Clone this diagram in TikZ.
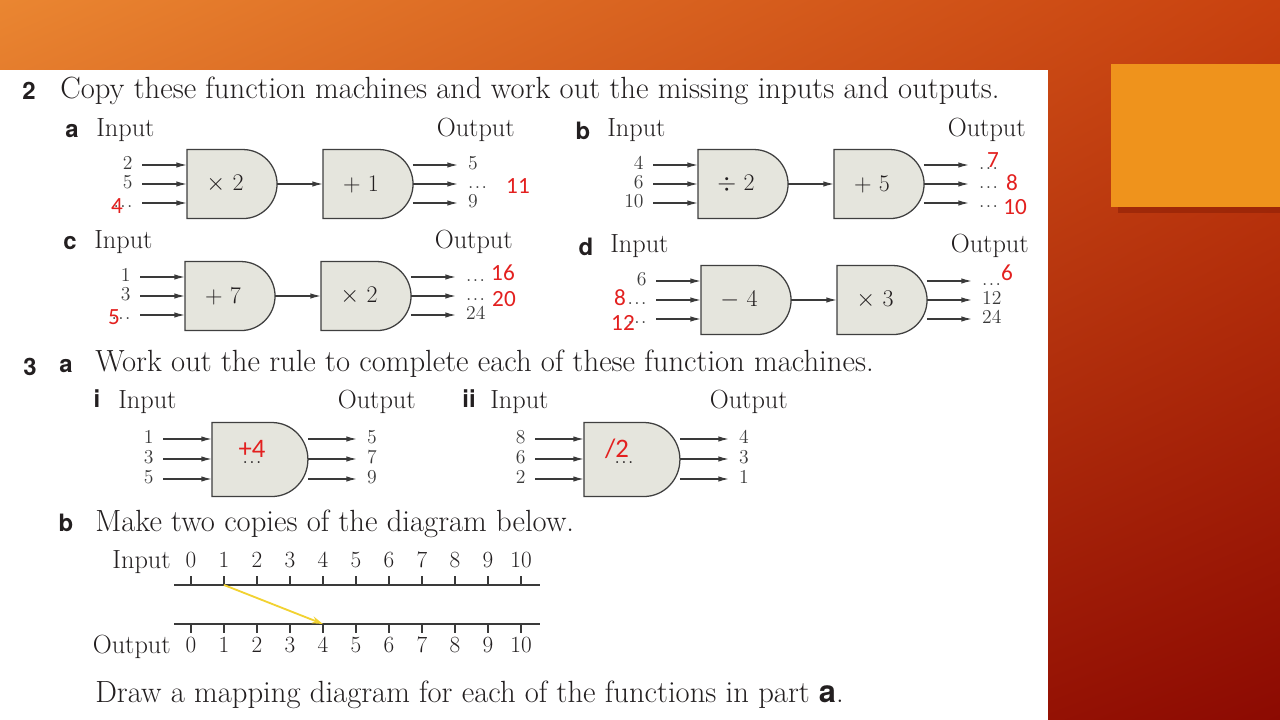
\documentclass[tikz,border=0pt]{standalone}
\usepackage{fontspec}
\usepackage{tikz}
\usetikzlibrary{arrows.meta,positioning,calc,shadings}
\newfontfamily\labfont{TeX Gyre Heros}
\newfontfamily\handfont{Carlito}
\definecolor{bgtl}{HTML}{EA8631}
\definecolor{bgtr}{HTML}{C8410F}
\definecolor{bgbl}{HTML}{B8300C}
\definecolor{bgbr}{HTML}{8C0A02}
\definecolor{tabfill}{HTML}{EF931C}
\definecolor{tabshade}{HTML}{8E2006}
\definecolor{ink}{HTML}{231F20}
\definecolor{numgray}{HTML}{3A3A3A}
\definecolor{mfill}{HTML}{E5E5DD}
\definecolor{medge}{HTML}{3F3F3F}
\definecolor{pen}{HTML}{E3201F}
\definecolor{marker}{HTML}{F2D231}
\pgfdeclarelayer{back}
\pgfdeclarelayer{body}
\pgfsetlayers{back,body,main}

\newcommand\qsize{\fontsize{21.8}{26}\selectfont}
\newcommand\iosize{\fontsize{18.7}{22}\selectfont}
\newcommand\nsize{\fontsize{14}{16}\selectfont}
\newcommand\msize{\fontsize{17}{20}\selectfont}
\newcommand\penA{\handfont\fontsize{16.5}{18}\selectfont}
\newcommand\penB{\handfont\fontsize{19}{21}\selectfont}
\newcommand\dd{.\kern1pt.\kern1pt.}

\tikzset{
  arr/.style={draw=numgray, line width=0.9pt, -{Latex[length=7.5pt,width=3.8pt]}},
  qtext/.style={font=\qsize, text=ink, anchor=base west, inner sep=0pt},
  qlab/.style={font=\labfont\bfseries\fontsize{17}{20}\selectfont, text=ink, inner sep=0pt},
  io/.style={font=\iosize, text=ink, inner sep=0pt},
  num/.style={font=\nsize, text=numgray, inner ysep=0pt, text height=1.45ex, text depth=0pt},
  innum/.style={num, anchor=east, inner xsep=6.5pt},
  outnum/.style={num, anchor=west, inner xsep=7pt},
  machine/.style={font=\msize, text=ink, inner sep=0pt, outer sep=0pt, minimum width=54pt, minimum height=49pt},
  bigmachine/.style={machine, minimum width=57pt, minimum height=52.6pt},
  mbody/.style={fill=mfill, draw=medge, line width=0.9pt},
  ans/.style={font=\penA, text=pen, inner sep=0pt},
  ansbig/.style={font=\penB, text=pen, inner sep=0pt},
  axis/.style={draw=numgray, line width=0.9pt},
  nlnum/.style={font=\fontsize{16.5}{18}\selectfont, text=ink, inner sep=0pt, text height=1.45ex, text depth=0pt},
  maparrow/.style={draw=marker, line width=1.3pt, -{Stealth[length=8pt,width=5pt]}},
}

% D-shaped body behind a machine node: name, flat length, x radius, y radius
\newcommand\dbody[4]{%
  \begin{pgfonlayer}{body}
    \filldraw[mbody] (#1.north west) -- ++(#2,0)
      .. controls +({0.552*#3},0) and +(0,{-0.552*#4}) .. ++(#3,#4)
      .. controls +(0,{0.552*#4}) and +({0.552*#3},0) .. ++(-#3,#4)
      -- (#1.south west) -- cycle;
  \end{pgfonlayer}}

% two machines in a row: prefix, letter, first rule, second rule, inputs, outputs
\newcommand\twomachine[6]{%
  \node[qlab] (#1-tag) at (72,131) {#2};
  \node[io, anchor=mid west] (#1-input) at (96,133) {Input};
  \node[io, anchor=mid east] (#1-output) at (515,133) {Output};
  \node[machine] (#1-m1) at (225,184) {#3};
  \node[machine] (#1-m2) at (361,184) {#4};
  \dbody{#1-m1}{56}{34}{34.5}
  \dbody{#1-m2}{56}{34}{34.5}
  \draw[arr] (#1-m1.east) ++(14,0) -- (#1-m2.west);
  \foreach \v [count=\i] in {#5}{
    \node[innum] (#1-in\i) at (142,{146+19*\i}) {\v};
    \draw[arr] (#1-in\i.east) -- (#1-m1.west |- #1-in\i.east);
  }
  \foreach \v [count=\i] in {#6}{
    \node[outnum] (#1-out\i) at (458,{146+19*\i}) {\v};
    \draw[arr] (#1-m2.east |- #1-out\i.west) ++(14,0) -- (#1-out\i.west);
  }
}

% one machine: prefix, numeral, rule, inputs, outputs
\newcommand\onemachine[5]{%
  \node[qlab] (#1-tag) at (97,399) {#2};
  \node[io, anchor=mid west] (#1-input) at (118,405) {Input};
  \node[io, anchor=mid east] (#1-output) at (416,405) {Output};
  \node[bigmachine] (#1-m) at (252,459.5) {#3};
  \dbody{#1-m}{60}{36}{37}
  \foreach \v [count=\i] in {#4}{
    \node[innum] (#1-in\i) at (163,{419+20*\i}) {\v};
    \draw[arr] (#1-in\i.east) -- (#1-m.west |- #1-in\i.east);
  }
  \foreach \v [count=\i] in {#5}{
    \node[outnum] (#1-out\i) at (357,{419+20*\i}) {\v};
    \draw[arr] (#1-m.east |- #1-out\i.west) ++(16,0) -- (#1-out\i.west);
  }
}

\begin{document}
\begin{tikzpicture}[x=0.025cm, y=-0.025cm]
\useasboundingbox (0,0) rectangle (1280,720);
\begin{pgfonlayer}{back}
  \shade[upper left=bgtl, upper right=bgtr, lower left=bgbl, lower right=bgbr] (0,0) rectangle (1280,720);
  \fill[white] (0,70) rectangle (1048,720);
  \fill[tabshade, opacity=0.6] (1118,70) rectangle (1280,213);
  \fill[tabfill] (1111,64) rectangle (1280,207);
\end{pgfonlayer}

% question 2
\node[qlab] (q2) at (29,91) {2};
\node[qtext] (q2-text) at (60,99) {Copy these function machines and work out the missing inputs and outputs.};
\begin{scope}
  \twomachine{a}{a}{$\times$ 2}{$+$ 1}{2,5,\dd}{5,\dd,9}
\end{scope}
\begin{scope}[shift={(511,0)}]
  \twomachine{b}{b}{$\div$ 2}{$+$ 5}{4,6,10}{\dd,\dd,\dd}
\end{scope}
\begin{scope}[shift={(-2,112)}]
  \twomachine{c}{c}{$+$ 7}{$\times$ 2}{1,3,\dd}{\dd,\dd,24}
\end{scope}
\begin{scope}[shift={(514,116)}]
  \twomachine{d}{d}{$-$ 4}{$\times$ 3}{6,\dd,\dd}{\dd,12,24}
\end{scope}

% answers written in red
\node[ans] (ans-a1) at (117,206) {4};
\node[ans] (ans-a2) at (518,186) {11};
\node[ans] (ans-b1) at (993,160) {7};
\node[ans] (ans-b2) at (1012,183) {8};
\node[ans] (ans-b3) at (1015,207) {10};
\node[ans] (ans-c1) at (114,317) {5};
\node[ans] (ans-c2) at (503,273) {16};
\node[ans] (ans-c3) at (504,299) {20};
\node[ans] (ans-d1) at (620,298) {8};
\node[ans] (ans-d2) at (623,323) {12};
\node[ans] (ans-d3) at (1007,273) {6};

% question 3a
\node[qlab] (q3) at (30,367) {3};
\node[qlab] (q3-tag) at (66,366) {a};
\node[qtext] (q3-text) at (95,372) {Work out the rule to complete each of these function machines.};
\begin{scope}
  \onemachine{i}{i}{\raisebox{-3pt}[0pt][0pt]{\nsize\dd}}{1,3,5}{5,7,9}
\end{scope}
\begin{scope}[shift={(372,0)}]
  \onemachine{ii}{ii}{\raisebox{-3pt}[0pt][0pt]{\nsize\dd}}{8,6,2}{4,3,1}
\end{scope}
\node[ansbig] (ans-i) at (252,449) {+4};
\node[ansbig] (ans-ii) at (617,449) {/2};

% question 3b: mapping diagram
\node[qlab] (nl-tag) at (66,523) {b};
\node[qtext] (nl-text) at (95,531) {Make two copies of the diagram below.};
\node[io, anchor=mid east] (nl-input) at (171,565) {Input};
\node[io, anchor=mid east] (nl-output) at (171,650) {Output};
\draw[axis] (174,585) -- (540,585);
\draw[axis] (174,624) -- (540,624);
\foreach \n in {0,...,10}{
  \node[nlnum] (top\n) at ({191+33*\n},563) {\n};
  \node[nlnum] (bot\n) at ({191+33*\n},648) {\n};
  \coordinate (up\n) at ({191+33*\n},585);
  \coordinate (lo\n) at ({191+33*\n},624);
  \draw[axis] (up\n) -- ++(0,-9);
  \draw[axis] (lo\n) -- ++(0,9);
}
\draw[maparrow] (up1) -- (lo4);
\node[qtext] (final) at (95,702) {Draw a mapping diagram for each of the functions in part {\labfont\bfseries a}.};
\end{tikzpicture}
\end{document}
